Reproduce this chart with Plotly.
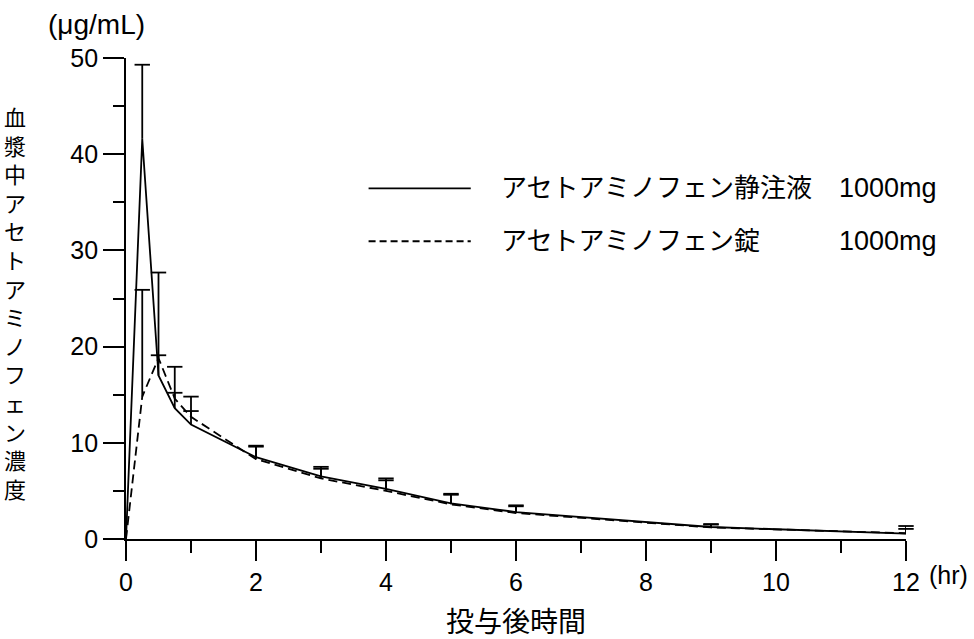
import plotly.graph_objects as go

# hours after dosing
time_hr = [0, 0.25, 0.5, 0.75, 1, 2, 3, 4, 5, 6, 9, 12]

# IV solution 1000mg, mean and +SD (ug/mL)
iv_mean = [0, 41.6, 17.0, 13.6, 11.9, 8.5, 6.5, 5.2, 3.7, 2.8, 1.25, 0.55]
iv_sd = [0, 7.7, 10.7, 4.3, 2.9, 1.2, 1.0, 1.1, 1.0, 0.7, 0.3, 0.8]

# tablet 1000mg
tab_mean = [0, 14.8, 18.8, 14.6, 12.7, 8.3, 6.3, 5.0, 3.6, 2.7, 1.2, 0.6]
tab_sd = [0, 11.1, 0.3, 0.6, 0.6, 1.3, 1.0, 1.1, 1.0, 0.7, 0.3, 0.45]

legend_names = ["アセトアミノフェン静注液", "アセトアミノフェン錠"]
legend_dose = ["1000mg", "1000mg"]

FONT = "Liberation Sans, Noto Sans CJK JP, sans-serif"

fig = go.Figure()

for mean, sd, dash in [(iv_mean, iv_sd, "solid"), (tab_mean, tab_sd, "9px,5px")]:
    has_sd = [t for t, s in zip(time_hr, sd) if s > 0]
    top = [m + s for m, s in zip(mean, sd) if s > 0]
    # error bar stems (plus side only)
    fig.add_trace(go.Scatter(
        x=time_hr, y=mean, mode="lines",
        line=dict(color="black", width=1.8, dash=dash),
        error_y=dict(type="data", symmetric=False, array=sd,
                     arrayminus=[0] * len(sd), width=0,
                     color="black", thickness=1.8),
        cliponaxis=False, showlegend=False, hoverinfo="skip"))
    # caps at mean + SD
    fig.add_trace(go.Scatter(
        x=has_sd, y=top, mode="markers",
        marker=dict(symbol="line-ew", size=11,
                    line=dict(color="black", width=1.8)),
        cliponaxis=False, showlegend=False, hoverinfo="skip"))

# hand-drawn legend, as in the source figure
legend_y = [0.729, 0.619]
legend_dash = ["solid", "7px,4px"]
for name, dose, ly, dash in zip(legend_names, legend_dose, legend_y, legend_dash):
    fig.add_shape(type="line", xref="paper", yref="paper",
                  x0=0.311, x1=0.442, y0=ly, y1=ly,
                  line=dict(color="black", width=1.8, dash=dash))
    fig.add_annotation(text=name, xref="paper", yref="paper", x=0.478, y=ly,
                       xanchor="left", yanchor="middle", showarrow=False,
                       font=dict(family=FONT, size=26, color="black"))
    fig.add_annotation(text=dose, xref="paper", yref="paper", x=0.912, y=ly,
                       xanchor="left", yanchor="middle", showarrow=False,
                       font=dict(family=FONT, size=27, color="black"))

# vertical y-axis title
y_title = "血漿中アセトアミノフェン濃度"
fig.add_annotation(text="<br>".join(y_title), xref="paper", yref="paper",
                   x=-0.142, y=0.487, xanchor="center", yanchor="middle",
                   showarrow=False,
                   font=dict(family=FONT, size=22, color="black"))
fig.add_annotation(text="(μg/mL)", xref="paper", yref="paper",
                   x=-0.038, y=1.07, xanchor="center", yanchor="middle",
                   showarrow=False, font=dict(family=FONT, size=28, color="black"))
fig.add_annotation(text="投与後時間", xref="paper", yref="paper",
                   x=0.5, y=-0.173, xanchor="center", yanchor="middle",
                   showarrow=False, font=dict(family=FONT, size=28, color="black"))
fig.add_annotation(text="(hr)", xref="paper", yref="paper",
                   x=1.027, y=-0.075, xanchor="left", yanchor="middle",
                   showarrow=False, font=dict(family=FONT, size=25, color="black"))

fig.update_xaxes(range=[0, 12], tickmode="array", tickvals=[0, 2, 4, 6, 8, 10, 12],
                 ticks="outside", ticklen=20, tickwidth=1.8, tickcolor="black",
                 minor=dict(tickmode="array", tickvals=[1, 3, 5, 7, 9, 11],
                            ticks="outside", ticklen=12, tickwidth=1.8, tickcolor="black"),
                 showline=True, linecolor="black", linewidth=1.8,
                 showgrid=False, zeroline=False,
                 tickfont=dict(family=FONT, size=25, color="black"))
fig.update_yaxes(range=[0, 50], tickmode="array", tickvals=[0, 10, 20, 30, 40, 50],
                 ticks="outside", ticklen=21, tickwidth=1.8, tickcolor="black",
                 minor=dict(tickmode="array", tickvals=[5, 15, 25, 35, 45],
                            ticks="outside", ticklen=11, tickwidth=1.8, tickcolor="black"),
                 showline=True, linecolor="black", linewidth=1.8,
                 showgrid=False, zeroline=False,
                 tickfont=dict(family=FONT, size=25, color="black"))

fig.update_layout(width=974, height=639,
                  margin=dict(l=126, r=68, t=58, b=100),
                  paper_bgcolor="white", plot_bgcolor="white",
                  showlegend=False)

# drop the default 8px body margin so the figure fills the window exactly
fig.write_html("out.html", config={"displayModeBar": False},
               post_script="document.body.style.margin = '0';")
